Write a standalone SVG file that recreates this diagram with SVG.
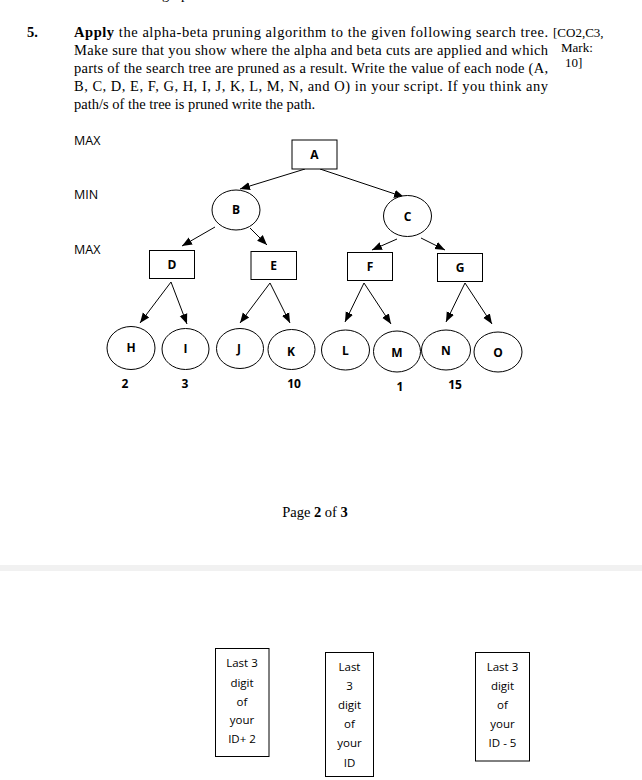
<svg xmlns="http://www.w3.org/2000/svg" width="642" height="780" viewBox="0 0 642 780">
<style>
.tm{font-family:"Liberation Serif","Times New Roman",serif;fill:#000}
.q{font-size:14.5px}
.sm{font-size:13px}
.lv{font-family:"Open Sans","Liberation Sans",sans-serif;font-size:12.5px;fill:#000}
.nl{font-family:"Open Sans","Liberation Sans",sans-serif;font-size:12px;font-weight:bold;fill:#000;text-anchor:middle}
.val{font-family:"Open Sans","Liberation Sans",sans-serif;font-size:12px;font-weight:bold;fill:#000;text-anchor:middle}
.bx{font-family:"Open Sans","Liberation Sans",sans-serif;font-size:11.5px;fill:#000;text-anchor:middle}
.nd{fill:#fff;stroke:#000;stroke-width:1}
.cn{stroke:#000;stroke-width:1;fill:none;marker-end:url(#ah)}
</style>
<defs>
<marker id="ah" markerUnits="userSpaceOnUse" markerWidth="10" markerHeight="10" viewBox="0 0 10 10" refX="10" refY="5" orient="auto">
<path d="M0,1 L10,5 L0,9 Z" fill="#000"/>
</marker>
</defs>
<rect width="642" height="780" fill="#fff"/>

<!-- cut-off text at top -->
<text class="tm q" x="162" y="-1">g</text>
<text class="tm q" x="181" y="-1">p</text>

<!-- question -->
<g id="question">
<text class="tm q" x="27" y="37" font-weight="bold">5.</text>
<text class="tm q" x="74" y="37" textLength="474" lengthAdjust="spacing"><tspan font-weight="bold">Apply</tspan> the alpha-beta pruning algorithm to the given following search tree.</text>
<text class="tm q" x="74" y="55" textLength="474" lengthAdjust="spacing">Make sure that you show where the alpha and beta cuts are applied and which</text>
<text class="tm q" x="74" y="73" textLength="474" lengthAdjust="spacing">parts of the search tree are pruned as a result. Write the value of each node (A,</text>
<text class="tm q" x="74" y="91" textLength="474" lengthAdjust="spacing">B, C, D, E, F, G, H, I, J, K, L, M, N, and O) in your script. If you think any</text>
<text class="tm q" x="74" y="109">path/s of the tree is pruned write the path.</text>
<text class="tm sm" x="553" y="37">[CO2,C3,</text>
<text class="tm sm" x="561" y="52">Mark:</text>
<text class="tm sm" x="565" y="67">10]</text>
</g>

<!-- level labels -->
<text class="lv" x="74" y="145">MAX</text>
<text class="lv" x="74" y="199">MIN</text>
<text class="lv" x="74" y="254">MAX</text>

<!-- connectors -->
<g id="connectors">
<line class="cn" x1="305" y1="169" x2="240" y2="189"/>
<line class="cn" x1="320" y1="169" x2="404" y2="197"/>
<line class="cn" x1="215" y1="227" x2="182" y2="246"/>
<line class="cn" x1="250" y1="228" x2="267" y2="245"/>
<line class="cn" x1="397" y1="239" x2="372" y2="250"/>
<line class="cn" x1="421" y1="238" x2="445" y2="250"/>
<line class="cn" x1="171" y1="282" x2="140" y2="323"/>
<line class="cn" x1="171" y1="282" x2="187" y2="324"/>
<line class="cn" x1="270" y1="283" x2="240" y2="323"/>
<line class="cn" x1="270" y1="283" x2="290" y2="323"/>
<line class="cn" x1="364" y1="283" x2="345" y2="322"/>
<line class="cn" x1="364" y1="283" x2="391" y2="324"/>
<line class="cn" x1="465" y1="283" x2="446" y2="322"/>
<line class="cn" x1="465" y1="283" x2="492" y2="324"/>
</g>

<!-- nodes -->
<g id="A"><rect class="nd" x="292" y="140" width="45" height="29" stroke="#666"/><text class="nl" x="314.5" y="159">A</text></g>
<g id="B"><ellipse class="nd" cx="236" cy="210" rx="24" ry="20"/><text class="nl" x="236" y="214">B</text></g>
<g id="C"><ellipse class="nd" cx="407.5" cy="216" rx="24" ry="20.5"/><text class="nl" x="407.5" y="221">C</text></g>
<g id="D"><rect class="nd" x="149.5" y="250.5" width="45" height="28"/><text class="nl" x="172" y="269">D</text></g>
<g id="E"><rect class="nd" x="251" y="251.5" width="45.5" height="28"/><text class="nl" x="273.5" y="270">E</text></g>
<g id="F"><rect class="nd" x="347.5" y="252.5" width="45" height="28"/><text class="nl" x="370" y="271">F</text></g>
<g id="G"><rect class="nd" x="437.5" y="253.5" width="45" height="28"/><text class="nl" x="460" y="272">G</text></g>

<g id="H"><ellipse class="nd" cx="131" cy="348" rx="24" ry="21.5"/><text class="nl" x="131" y="352">H</text></g>
<g id="I"><ellipse class="nd" cx="185.5" cy="349" rx="23.5" ry="20.5"/><text class="nl" x="185.5" y="353">I</text></g>
<g id="J"><ellipse class="nd" cx="240" cy="348.5" rx="23.5" ry="20"/><text class="nl" x="239" y="353">J</text></g>
<g id="K"><ellipse class="nd" cx="291.5" cy="349.5" rx="23.5" ry="20"/><text class="nl" x="291" y="356">K</text></g>
<g id="L"><ellipse class="nd" cx="345.5" cy="350" rx="24" ry="20"/><text class="nl" x="345.5" y="355">L</text></g>
<g id="M"><ellipse class="nd" cx="397" cy="351.5" rx="23.5" ry="20.5"/><text class="nl" x="397" y="357">M</text></g>
<g id="N"><ellipse class="nd" cx="446" cy="350" rx="24.5" ry="20"/><text class="nl" x="446" y="355">N</text></g>
<g id="O"><ellipse class="nd" cx="498" cy="352" rx="24" ry="20"/><text class="nl" x="498" y="357">O</text></g>

<!-- leaf values -->
<text class="val" x="125" y="388">2</text>
<text class="val" x="185" y="388">3</text>
<text class="val" x="294" y="388">10</text>
<text class="val" x="400" y="391">1</text>
<text class="val" x="455" y="389">15</text>

<!-- page footer -->
<text class="tm" x="315" y="517" font-size="14.5" text-anchor="middle">Page <tspan font-weight="bold">2</tspan> of <tspan font-weight="bold">3</tspan></text>
<rect x="0" y="565" width="642" height="6" fill="#f1f1f1"/>

<!-- bottom boxes -->
<g id="box1">
<rect class="nd" x="215.5" y="648.5" width="53.5" height="108"/>
<text class="bx" x="242" y="667">Last 3</text>
<text class="bx" x="242" y="687">digit</text>
<text class="bx" x="242" y="706">of</text>
<text class="bx" x="242" y="724">your</text>
<text class="bx" x="242" y="743">ID+ 2</text>
</g>
<g id="box2">
<rect class="nd" x="325.5" y="652.5" width="48" height="124"/>
<text class="bx" x="349.5" y="671">Last</text>
<text class="bx" x="349.5" y="690">3</text>
<text class="bx" x="349.5" y="709">digit</text>
<text class="bx" x="349.5" y="728">of</text>
<text class="bx" x="349.5" y="747">your</text>
<text class="bx" x="349.5" y="767">ID</text>
</g>
<g id="box3">
<rect class="nd" x="475.5" y="652.5" width="54" height="108.5"/>
<text class="bx" x="502.5" y="671">Last 3</text>
<text class="bx" x="502.5" y="690">digit</text>
<text class="bx" x="502.5" y="709">of</text>
<text class="bx" x="502.5" y="728">your</text>
<text class="bx" x="502.5" y="747">ID - 5</text>
</g>
</svg>
